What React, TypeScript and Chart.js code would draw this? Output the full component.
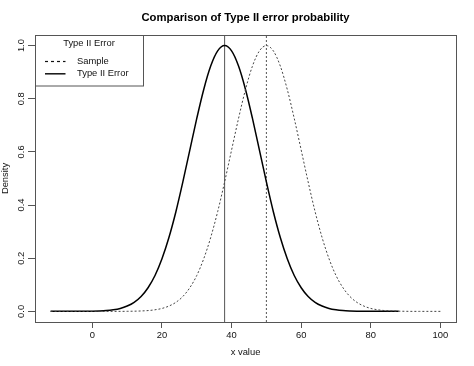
import React, { useEffect, useRef } from 'react';
import { Chart, registerables } from 'chart.js';
Chart.register(...registerables);

const chartTitle = 'Comparison of Type II error probability';
const xAxisTitle = 'x value';
const yAxisTitle = 'Density';
const legendTitle = 'Type II Error';
const legendLabels = ['Sample', 'Type II Error'];

const sampleX = [-12, -10, -8, -6, -4, -2, 0, 2, 4, 6, 8, 10, 12, 14, 16, 18, 20, 22, 24, 26, 28, 30, 32, 34, 36, 38, 40, 42, 44, 46, 48, 50, 52, 54, 56, 58, 60, 62, 64, 66, 68, 70, 72, 74, 76, 78, 80, 82, 84, 86, 88, 90, 92, 94, 96, 98, 100];
const sampleY = [0, 0, 0, 0, 0, 0, 0, 0, 0, 0, 0,
  0.0003, 0.0007, 0.0015, 0.003, 0.006, 0.011, 0.02, 0.034, 0.056, 0.089,
  0.135, 0.198, 0.278, 0.375, 0.487, 0.607, 0.726, 0.835, 0.923, 0.98,
  1,
  0.98, 0.923, 0.835, 0.726, 0.607, 0.487, 0.375, 0.278, 0.198, 0.135,
  0.089, 0.056, 0.034, 0.02, 0.011, 0.006, 0.003, 0.0015, 0.0007, 0.0003,
  0, 0, 0, 0, 0];

const errorX = [-12, -10, -8, -6, -4, -2, 0, 2, 4, 6, 8, 10, 12, 14, 16, 18, 20, 22, 24, 26, 28, 30, 32, 34, 36, 38, 40, 42, 44, 46, 48, 50, 52, 54, 56, 58, 60, 62, 64, 66, 68, 70, 72, 74, 76, 78, 80, 82, 84, 86, 88];
const errorY = [0, 0, 0, 0, 0,
  0.0003, 0.0007, 0.0015, 0.003, 0.006, 0.011, 0.02, 0.034, 0.056, 0.089,
  0.135, 0.198, 0.278, 0.375, 0.487, 0.607, 0.726, 0.835, 0.923, 0.98,
  1,
  0.98, 0.923, 0.835, 0.726, 0.607, 0.487, 0.375, 0.278, 0.198, 0.135,
  0.089, 0.056, 0.034, 0.02, 0.011, 0.006, 0.003, 0.0015, 0.0007, 0.0003,
  0, 0, 0, 0, 0];

const errorLineX = 38;
const sampleLineX = 50;

const xTicks = [0, 20, 40, 60, 80, 100];
const yTicks = [0, 0.2, 0.4, 0.6, 0.8, 1.0];
const yTickLabels = ['0.0', '0.2', '0.4', '0.6', '0.8', '1.0'];

const X_MIN = -16.48, X_MAX = 104.48, Y_MIN = -0.04, Y_MAX = 1.04;
const FONT = "'Liberation Sans', Arial, Helvetica, sans-serif";

const rPlugin = {
  id: 'rstyle',
  afterDraw(chart: any) {
    const { ctx, chartArea: a, scales } = chart;
    ctx.save();
    // box
    ctx.strokeStyle = '#555';
    ctx.lineWidth = 1;
    ctx.setLineDash([]);
    ctx.strokeRect(Math.round(a.left) + 0.5, Math.round(a.top) + 0.5, Math.round(a.right - a.left), Math.round(a.bottom - a.top));
    // y tick labels rotated
    ctx.fillStyle = '#111';
    ctx.font = `9.4px ${FONT}`;
    yTicks.forEach((v, i) => {
      const py = scales.y.getPixelForValue(v);
      ctx.save();
      ctx.translate(scales.y.right - 13.5, py);
      ctx.rotate(-Math.PI / 2);
      ctx.textAlign = 'center';
      ctx.textBaseline = 'middle';
      ctx.fillText(yTickLabels[i], 0, 0);
      ctx.restore();
    });
    // legend
    const lx = Math.round(a.left) + 0.5, ly = Math.round(a.top) + 0.5;
    const lw = 108, lh = 50.5;
    ctx.fillStyle = '#fff';
    ctx.fillRect(lx, ly, lw, lh);
    ctx.strokeStyle = '#555';
    ctx.lineWidth = 1;
    ctx.strokeRect(lx, ly, lw, lh);
    ctx.fillStyle = '#111';
    ctx.textAlign = 'center';
    ctx.textBaseline = 'middle';
    ctx.fillText(legendTitle, lx + 53.5, ly + 8);
    ctx.textAlign = 'left';
    const rows = [ly + 26, ly + 38.3];
    ctx.strokeStyle = '#111';
    ctx.lineWidth = 1.2;
    ctx.setLineDash([3, 3]);
    ctx.beginPath();
    ctx.moveTo(lx + 9.5, rows[0]);
    ctx.lineTo(lx + 30, rows[0]);
    ctx.stroke();
    ctx.setLineDash([]);
    ctx.lineWidth = 1.5;
    ctx.beginPath();
    ctx.moveTo(lx + 9.5, rows[1]);
    ctx.lineTo(lx + 30, rows[1]);
    ctx.stroke();
    ctx.fillText(legendLabels[0], lx + 41.5, rows[0]);
    ctx.fillText(legendLabels[1], lx + 41.5, rows[1]);
    ctx.restore();
  },
};

export default function App() {
  const ref = useRef<HTMLCanvasElement>(null);
  useEffect(() => {
    if (!ref.current) return;
    const chart = new Chart(ref.current, {
      type: 'line',
      data: {
        datasets: [
          {
            label: legendLabels[0],
            data: sampleX.map((x, i) => ({ x, y: sampleY[i] })),
            borderColor: '#444',
            borderWidth: 1,
            borderDash: [2, 2],
            pointRadius: 0,
            cubicInterpolationMode: 'monotone',
            fill: false,
          },
          {
            label: legendLabels[1],
            data: errorX.map((x, i) => ({ x, y: errorY[i] })),
            borderColor: '#000',
            borderWidth: 1.5,
            pointRadius: 0,
            cubicInterpolationMode: 'monotone',
            fill: false,
          },
          {
            label: 'error line',
            data: [{ x: errorLineX, y: Y_MIN }, { x: errorLineX, y: Y_MAX }],
            borderColor: '#555',
            borderWidth: 1,
            pointRadius: 0,
            fill: false,
          },
          {
            label: 'sample line',
            data: [{ x: sampleLineX, y: Y_MIN }, { x: sampleLineX, y: Y_MAX }],
            borderColor: '#555',
            borderWidth: 1,
            borderDash: [2, 2],
            pointRadius: 0,
            fill: false,
          },
        ],
      },
      options: {
        responsive: false,
        animation: false,
        devicePixelRatio: 1,
        layout: { padding: { left: 0, right: 18, top: 0, bottom: 0 } },
        plugins: {
          legend: { display: false },
          tooltip: { enabled: false },
          title: {
            display: true,
            text: chartTitle,
            fullSize: false,
            color: '#000',
            font: { family: FONT, size: 11.3, weight: 'bold', lineHeight: 1.2 },
            padding: { top: 11.5, bottom: 9.9 },
          },
        },
        scales: {
          x: {
            type: 'linear',
            min: X_MIN,
            max: X_MAX,
            afterBuildTicks: (s: any) => { s.ticks = xTicks.map((v) => ({ value: v })); },
            afterFit: (s: any) => { s.height = 44; },
            grid: { display: true, drawOnChartArea: false, drawTicks: true, tickLength: 6, color: '#555' },
            border: { display: false },
            ticks: { color: '#111', font: { family: FONT, size: 9.4 }, padding: 2, maxRotation: 0, callback: (v: any) => String(v) },
            title: { display: true, text: xAxisTitle, color: '#111', font: { family: FONT, size: 9.4 }, padding: { top: 0, bottom: 8 } },
          },
          y: {
            type: 'linear',
            min: Y_MIN,
            max: Y_MAX,
            afterBuildTicks: (s: any) => { s.ticks = yTicks.map((v) => ({ value: v })); },
            afterFit: (s: any) => { s.width = 35; },
            grid: { display: true, drawOnChartArea: false, drawTicks: true, tickLength: 7, color: '#555' },
            border: { display: false },
            ticks: { display: false },
            title: { display: true, text: yAxisTitle, color: '#111', font: { family: FONT, size: 9.4 }, padding: 0 },
          },
        },
      },
      plugins: [rPlugin],
    });
    return () => chart.destroy();
  }, []);
  return (
    <div style={{ position: 'fixed', left: 0, top: 0, width: 474, height: 366, background: '#fff' }}>
      <canvas ref={ref} width={474} height={366} />
    </div>
  );
}
